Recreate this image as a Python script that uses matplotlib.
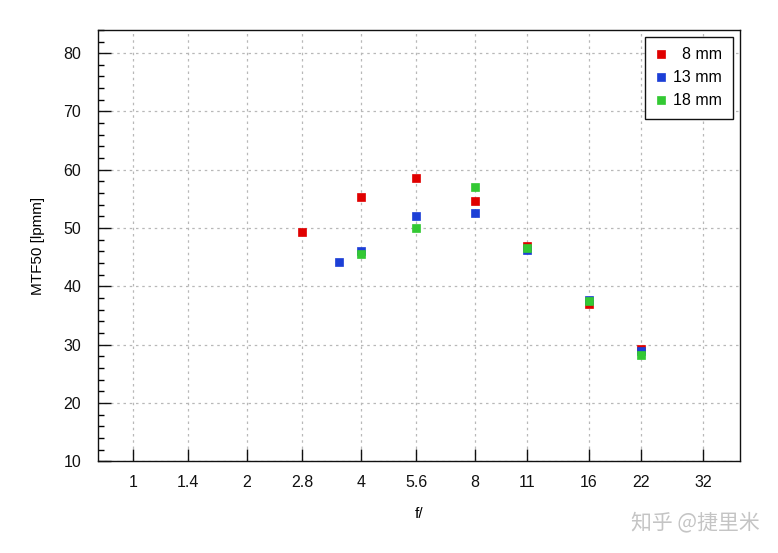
import matplotlib
matplotlib.use("Agg")
import matplotlib.pyplot as plt
from matplotlib.ticker import FixedLocator, FixedFormatter, MultipleLocator, NullLocator

plt.rcParams['font.family'] = ['Liberation Sans', 'DejaVu Sans']

# f-stop ticks and measured MTF50 values
fstops = [1, 1.4, 2, 2.8, 4, 5.6, 8, 11, 16, 22, 32]
fstop_labels = ["1", "1.4", "2", "2.8", "4", "5.6", "8", "11", "16", "22", "32"]

f_8mm = [2.8, 4, 5.6, 8, 11, 16, 22]
mtf_8mm = [49.4, 55.4, 58.5, 54.6, 47.0, 37.0, 29.3]

f_13mm = [3.5, 4, 5.6, 8, 11, 16, 22]
mtf_13mm = [44.1, 46.1, 52.0, 52.6, 46.2, 37.7, 28.9]

f_18mm = [4, 5.6, 8, 11, 16, 22]
mtf_18mm = [45.5, 50.0, 57.0, 46.6, 37.5, 28.3]

series = [("  8 mm", f_8mm, mtf_8mm, "#e00000"),
          ("13 mm", f_13mm, mtf_13mm, "#1c3fd6"),
          ("18 mm", f_18mm, mtf_18mm, "#33c933")]

fig = plt.figure(figsize=(7.78, 5.53), dpi=100)
ax = fig.add_axes([0.126, 0.166, 0.825, 0.780])

for name, fx, fy, col in series:
    ax.plot(fx, fy, ls="none", marker="s", ms=6.3, mfc=col, mec=col, mew=0.5, label=name, zorder=3)

ax.set_xscale("log", base=2)
ax.set_xlim(0.81, 40)
ax.set_ylim(10, 84)
ax.xaxis.set_major_locator(FixedLocator(fstops))
ax.xaxis.set_major_formatter(FixedFormatter(fstop_labels))
ax.xaxis.set_minor_locator(NullLocator())
ax.yaxis.set_major_locator(MultipleLocator(10))
ax.yaxis.set_minor_locator(MultipleLocator(2))

ax.tick_params(axis="x", which="major", direction="in", length=9, width=1, pad=10, labelsize=11.5, colors="#111111")
ax.tick_params(axis="y", which="major", direction="in", length=9, width=1, pad=12, labelsize=11.5, colors="#111111")
ax.tick_params(axis="y", which="minor", direction="in", length=4, width=1)
ax.tick_params(top=False, right=False)

ax.grid(True, which="major", color="#b8b8b8", ls=(0, (2, 3)), lw=0.9)
for s in ax.spines.values():
    s.set_color("#111111")
    s.set_linewidth(1.0)

ax.set_xlabel("f/", fontsize=11, labelpad=12)
ax.set_ylabel("MTF50 [lpmm]", fontsize=11, labelpad=13)

leg = ax.legend(loc="upper right", fontsize=11.5, handlelength=0.6, handletextpad=0.5,
                borderpad=0.65, labelspacing=0.5, fancybox=False, framealpha=1,
                edgecolor="#111111", markerscale=0.85, borderaxespad=0.45)
leg.get_frame().set_linewidth(1.0)

fig.text(0.977, 0.055, "知乎 @捷里米", ha="right", va="center", fontsize=15,
         color="#c4c4c4", family=["Noto Sans CJK SC", "DejaVu Sans"])

fig.savefig("out.png", dpi=100, facecolor="white")
